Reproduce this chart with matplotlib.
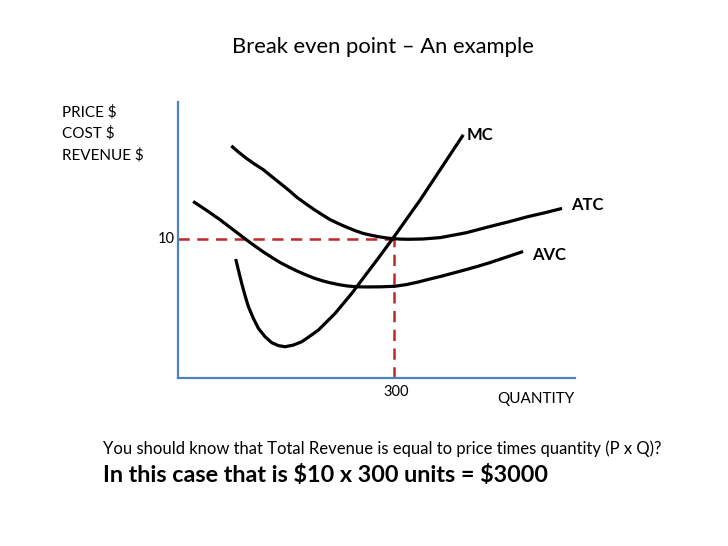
import matplotlib
matplotlib.use("Agg")
import matplotlib.pyplot as plt

# ---- data (quantity, price) ----
atc_q = [74, 84, 95, 106, 118, 130, 142, 154, 165, 177, 188, 200, 211, 223, 234, 246, 257, 268, 280, 290, 300, 310, 320, 340, 364, 400, 433, 460, 485, 510, 533]
atc_p = [16.7, 16.25, 15.8, 15.4, 15.0, 14.5, 14.0, 13.5, 13.0, 12.55, 12.15, 11.75, 11.4, 11.1, 10.85, 10.6, 10.4, 10.27, 10.15, 10.07, 10.02, 9.99, 9.98, 10.0, 10.1, 10.45, 10.9, 11.25, 11.6, 11.9, 12.2]

avc_q = [21, 40, 58, 77, 96, 108, 119, 131, 142, 154, 165, 177, 188, 200, 211, 223, 235, 249, 263, 282, 301, 317, 333, 348, 364, 382, 400, 417, 433, 456, 479]
avc_p = [12.7, 12.05, 11.4, 10.65, 9.9, 9.45, 9.05, 8.65, 8.3, 7.98, 7.7, 7.43, 7.2, 7.0, 6.85, 6.72, 6.62, 6.56, 6.55, 6.56, 6.6, 6.72, 6.9, 7.1, 7.3, 7.55, 7.8, 8.05, 8.3, 8.7, 9.1]

mc_q = [80.1, 83.8, 88.4, 93.1, 97.7, 104.6, 111.6, 120.8, 130.1, 139.4, 148.6, 160.2, 171.8, 183.3, 194.9, 206.5, 218.1, 229.6, 241.2, 255.1, 277, 299, 336, 396]
mc_p = [8.56, 7.77, 6.81, 5.92, 5.13, 4.29, 3.57, 2.97, 2.54, 2.33, 2.25, 2.37, 2.61, 3.02, 3.45, 4.05, 4.65, 5.37, 6.09, 7.05, 8.55, 10.1, 12.8, 17.5]

break_even_q = 300
break_even_p = 10
curve_labels = ["MC", "ATC", "AVC"]
y_label_lines = ["PRICE \\$", "COST \\$", "REVENUE \\$"]

FONT = ["Lato", "DejaVu Sans"]
plt.rcParams['font.family'] = FONT

fig = plt.figure(figsize=(7.28, 5.46), dpi=100)
ax = fig.add_axes([178/728, 1-378/546, (575-178)/728, (378-100)/546])
ax.set_xlim(0, 551)
ax.set_ylim(0, 20)
for s in ["top", "right"]:
    ax.spines[s].set_visible(False)
axis_col = "#4F81BD"
ax.spines["left"].set_color(axis_col)
ax.spines["bottom"].set_color(axis_col)
ax.spines["left"].set_linewidth(1.6)
ax.spines["bottom"].set_linewidth(1.6)
ax.spines["left"].set_bounds(0, 19.85)
ax.set_xticks([])
ax.set_yticks([])
ax.patch.set_alpha(0)

red = "#C0282A"
ax.plot([0, break_even_q], [break_even_p, break_even_p], color=red, lw=1.8,
        dashes=(4.5, 3), zorder=1)
ax.plot([break_even_q, break_even_q], [0, break_even_p], color=red, lw=1.8,
        dashes=(4.5, 3), zorder=1)

kw = dict(color="black", lw=2.3, solid_capstyle="butt", solid_joinstyle="round", zorder=3)
ax.plot(atc_q, atc_p, **kw)
ax.plot(avc_q, avc_p, **kw)
ax.plot(mc_q, mc_p, **kw)

# curve labels
ax.text(mc_q[-1] + 4, mc_p[-1], curve_labels[0], fontsize=12, fontweight="bold",
        ha="left", va="center")
ax.text(atc_q[-1] + 13, atc_p[-1] + 0.25, curve_labels[1], fontsize=12, fontweight="bold",
        ha="left", va="center")
ax.text(avc_q[-1] + 13, avc_p[-1] - 0.25, curve_labels[2], fontsize=12, fontweight="bold",
        ha="left", va="center")

# tick-like labels
ax.text(-5, break_even_p, "10", fontsize=10.5, ha="right", va="center")
ax.text(break_even_q + 3, -0.5, "300", fontsize=10.5, ha="center", va="top")
ax.text(551, -1.0, "QUANTITY", fontsize=11, ha="right", va="top")

# figure texts
fig.text(383/728, 1-47/546, "Break even point – An example", fontsize=15.8,
         ha="center", va="center")
for i, t in enumerate(y_label_lines):
    fig.text(62/728, 1-(112 + 21.5*i)/546, t, fontsize=11, ha="left", va="center")
fig.text(103/728, 1-449/546,
         "You should know that Total Revenue is equal to price times quantity (P x Q)?",
         fontsize=12, ha="left", va="center")
fig.text(103/728, 1-475/546, "In this case that is \\$10 x 300 units = \\$3000",
         fontsize=16.8, fontweight="bold", ha="left", va="center")

fig.savefig("out.png", dpi=100)
